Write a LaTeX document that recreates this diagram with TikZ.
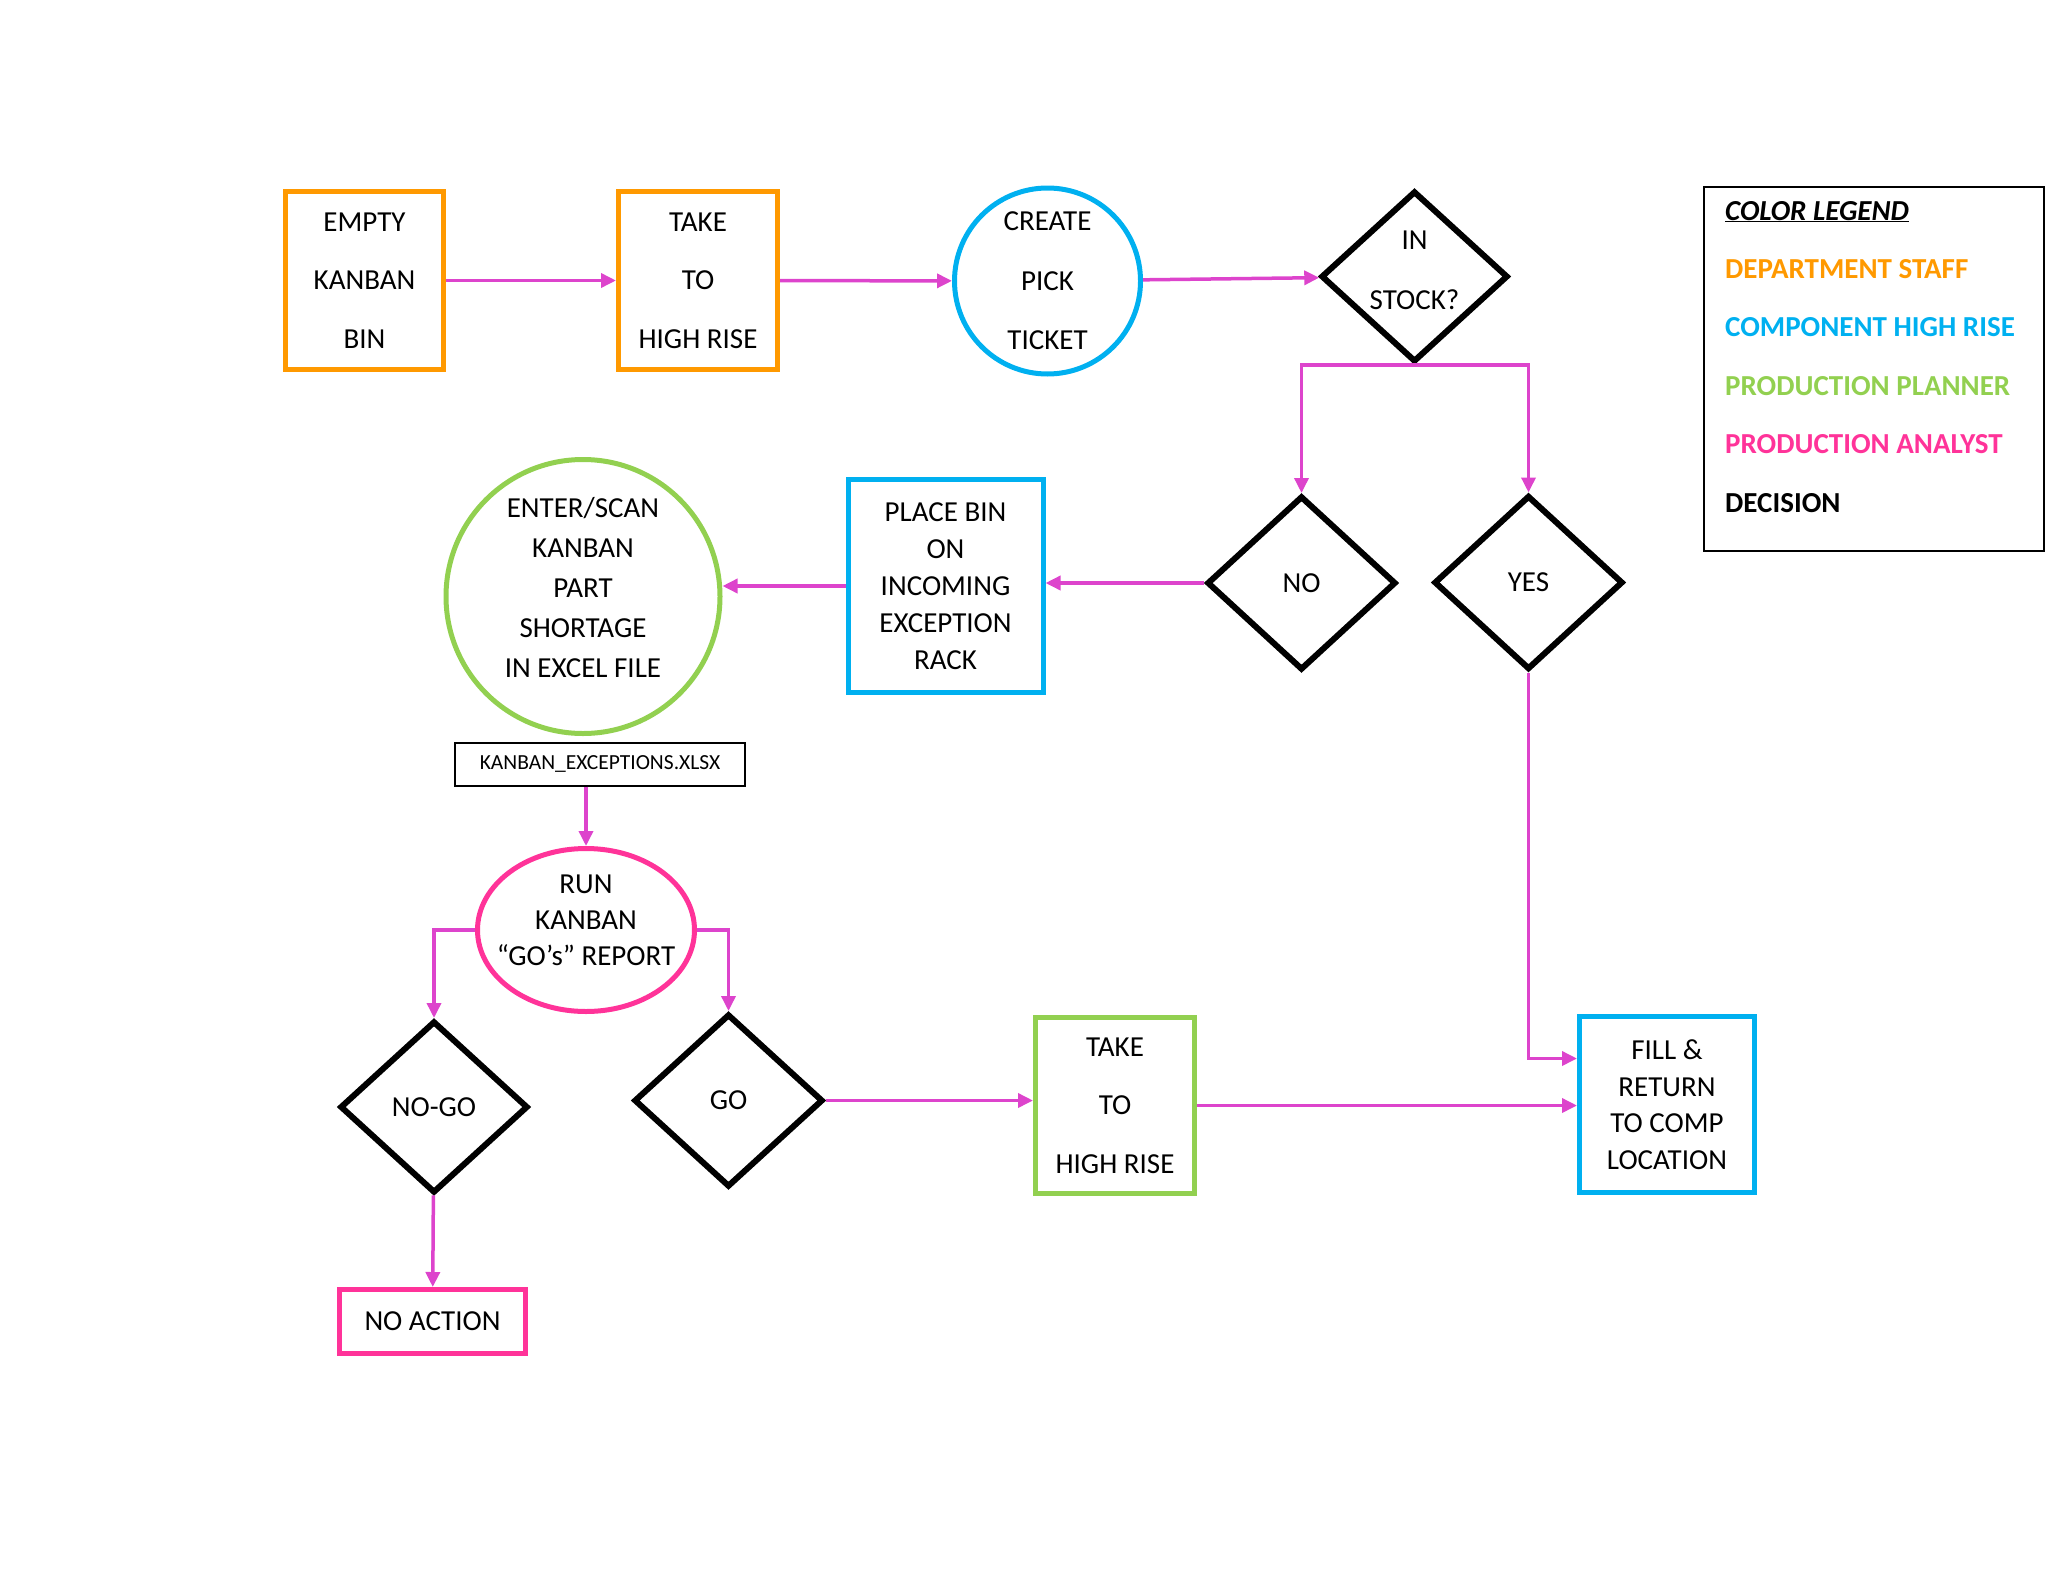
\documentclass[tikz,border=0pt]{standalone}
\usepackage{fontspec}
\setmainfont{Carlito}
\usetikzlibrary{shapes.geometric,arrows.meta}

\definecolor{deptorange}{RGB}{255,153,0}
\definecolor{hiriseblue}{RGB}{0,176,240}
\definecolor{plannergreen}{RGB}{146,208,80}
\definecolor{analystpink}{RGB}{255,51,153}
\definecolor{flowmagenta}{RGB}{221,68,204}

\newcommand{\BodyFont}[1]{\fontsize{29}{#1}\selectfont}% line spacing
\newcommand{\LegendFont}{\bfseries\fontsize{29}{29}\selectfont}

\tikzset{
  box/.style={draw, rectangle, line width=5pt, inner sep=0pt, align=center},
  roundbox/.style={draw, circle, line width=5pt, inner sep=0pt, align=center},
  decision/.style={draw=black, diamond, line width=6pt, inner sep=0pt, align=center,
    font=\BodyFont{58}},
  flow/.style={draw=flowmagenta, line width=3.5pt, -{Triangle[length=15pt,width=14pt]}},
}

\begin{document}
\begin{tikzpicture}[x=1pt, y=-1pt]
  \useasboundingbox (0,0) rectangle (2048,1582);
  %
  % top row
  \node[box, draw=deptorange, minimum width=158, minimum height=178, font=\BodyFont{58.5}]
    (empty) at (364.5,280.5) {EMPTY\\KANBAN\\BIN};
  \node[box, draw=deptorange, minimum width=159, minimum height=178, font=\BodyFont{58.5}]
    (take1) at (698,280.5) {TAKE\\TO\\HIGH RISE};
  \node[roundbox, draw=hiriseblue, minimum size=186, font=\BodyFont{59.5}]
    (pick) at (1047.5,281) {CREATE\\PICK\\TICKET};
  \node[decision, minimum width=187, minimum height=171, text depth=13pt, inner ysep=-6.5pt,
    font=\BodyFont{60}] (stock) at (1414.5,276.5) {IN\\STOCK?};
  %
  % stock answers
  \node[decision, minimum width=189, minimum height=174] (no) at (1301.5,583) {NO};
  \node[decision, minimum width=189, minimum height=174] (yes) at (1528.5,582.5) {YES};
  \node[box, draw=hiriseblue, minimum width=195, minimum height=213, font=\BodyFont{37}]
    (place) at (945.5,586) {PLACE BIN\\ON\\INCOMING\\EXCEPTION\\RACK};
  \node[roundbox, draw=plannergreen, minimum size=274, text depth=18pt, font=\BodyFont{40}]
    (enter) at (583,596.5) {ENTER/SCAN\\KANBAN\\PART\\SHORTAGE\\IN EXCEL FILE};
  \node[draw, rectangle, line width=2pt, minimum width=290, minimum height=43,
    font=\fontsize{21.5}{25}\selectfont] (xlsx) at (600,764) {KANBAN\_EXCEPTIONS.XLSX};
  %
  % report
  \node[draw=analystpink, ellipse, line width=5pt, inner xsep=-14pt, inner ysep=0pt,
    align=center, minimum width=217, minimum height=163, text depth=20pt, font=\BodyFont{36}]
    (run) at (586,930) {RUN\\KANBAN\\“GO’s” REPORT};
  \node[decision, minimum width=188, minimum height=172] (nogo) at (434,1107) {NO-GO};
  \node[decision, minimum width=189, minimum height=173] (go) at (728.5,1100.5) {GO};
  \node[box, draw=analystpink, minimum width=186, minimum height=64, font=\BodyFont{34}]
    (noaction) at (432.5,1321.5) {NO ACTION};
  \node[box, draw=plannergreen, minimum width=159, minimum height=176, font=\BodyFont{58.5}]
    (take2) at (1115,1105.5) {TAKE\\TO\\HIGH RISE};
  \node[box, draw=hiriseblue, minimum width=175, minimum height=176, font=\BodyFont{36.5}]
    (fill) at (1667,1104.5) {FILL \&\\RETURN\\TO COMP\\LOCATION};
  %
  % legend
  \node[draw, rectangle, line width=2pt, minimum width=340, minimum height=364]
    (legend) at (1874,369) {};
  \node[anchor=base west, inner sep=0pt, font=\LegendFont\itshape]
    (legtitle) at (1725,220) {\underline{COLOR LEGEND}};
  \foreach \Txt/\Col [count=\i] in {DEPARTMENT STAFF/deptorange,
      COMPONENT HIGH RISE/hiriseblue, PRODUCTION PLANNER/plannergreen,
      PRODUCTION ANALYST/analystpink, DECISION/black}
    \node[anchor=base west, inner sep=0pt, text=\Col, font=\LegendFont]
      (leg\i) at (1725,{220+58.4*\i}) {\Txt};
  %
  % connectors
  \draw[flow] (empty) -- (take1);
  \draw[flow] (take1) -- (pick);
  \draw[flow] (pick) -- (stock);
  \draw[flow] (stock.south) -| (no.north);
  \draw[flow] (stock.south) -| (yes.north);
  \draw[flow] (no.west) -- (no.west -| place.east);
  \draw[flow] (place.west) -- (enter.east |- place.west);
  \draw[flow] (xlsx.south -| run.north) -- (run.north);
  \draw[flow] (run.west) -| (nogo.north);
  \draw[flow] (run.east) -| (go.north);
  \draw[flow] (nogo) -- (noaction);
  \draw[flow] (go.east) -- (go.east -| take2.west);
  \draw[flow] (take2.east) -- (take2.east -| fill.west);
  \draw[flow] (yes.south) |- ([yshift=46pt]fill.west);
\end{tikzpicture}
\end{document}
